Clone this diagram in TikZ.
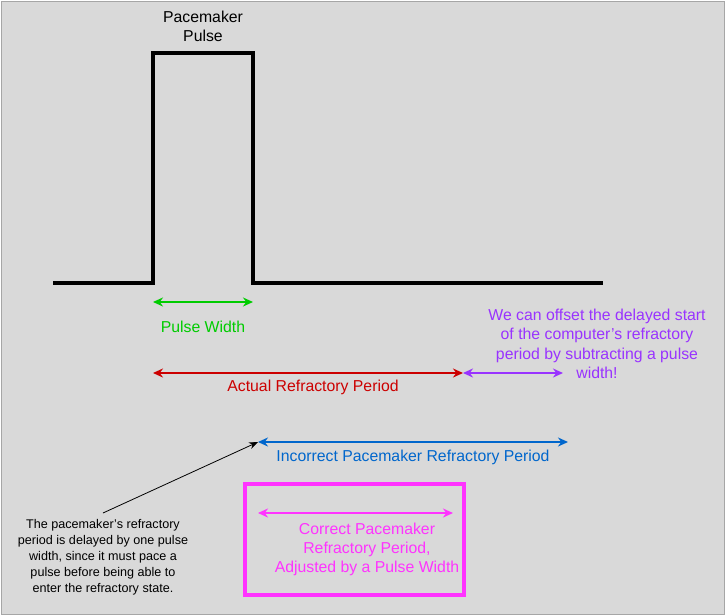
\documentclass[tikz,border=0pt]{standalone}
\usepackage{fontspec}
\setmainfont{Liberation Sans}
\usetikzlibrary{arrows.meta}
\definecolor{bg}{HTML}{D9D9D9}
\definecolor{cgreen}{HTML}{00CC00}
\definecolor{cred}{HTML}{CC0000}
\definecolor{cpurp}{HTML}{9933FF}
\definecolor{cblue}{HTML}{0066CC}
\definecolor{cmag}{HTML}{FF33FF}
\begin{document}
\begin{tikzpicture}[x=1pt,y=-1pt,
  dbl/.style={line width=2.2pt,{Stealth[length=10pt,width=9pt]}-{Stealth[length=10pt,width=9pt]}},
  lbl/.style={font=\fontsize{15.8}{19}\selectfont,align=center,inner sep=0pt},
  small/.style={font=\fontsize{12.6}{16}\selectfont,align=center,inner sep=0pt}]
\useasboundingbox (0,0) rectangle (726,616);
\draw[fill=bg,draw=gray!70] (1.5,1.5) rectangle (724.5,614.5);
\coordinate (p0) at (53,283);
\coordinate (p1) at (153,283);
\coordinate (p2) at (153,53);
\coordinate (p3) at (253,53);
\coordinate (p4) at (253,283);
\coordinate (p5) at (603,283);
\draw[line width=3.2pt,line join=miter] (p0)--(p1)--(p2)--(p3)--(p4)--(p5);
\node[lbl] (title) at (203,26) {Pacemaker\\Pulse};
% green
\coordinate (g1) at (153,302); \coordinate (g2) at (253,302);
\draw[dbl,cgreen] (g1)--(g2);
\node[lbl,text=cgreen] (gl) at (203,327) {Pulse Width};
% red
\coordinate (r1) at (153,373); \coordinate (r2) at (463,373);
\draw[dbl,cred] (r1)--(r2);
\node[lbl,text=cred] (rl) at (313,387) {Actual Refractory Period};
% purple
\coordinate (q1) at (463,373); \coordinate (q2) at (563,373);
\draw[dbl,cpurp] (q1)--(q2);
\node[lbl,text=cpurp,font=\fontsize{15.8}{19.5}\selectfont] (ql) at (597,344) {We can offset the delayed start\\of the computer's refractory\\period by subtracting a pulse\\width!};
% blue
\coordinate (b1) at (258,442); \coordinate (b2) at (568,442);
\draw[dbl,cblue] (b1)--(b2);
\node[lbl,text=cblue] (bl) at (413,457) {Incorrect Pacemaker Refractory Period};
% magenta box
\node[draw=cmag,line width=4pt,minimum width=219pt,minimum height=111pt,inner sep=0pt] (box) at (354.5,539.5) {};
\coordinate (m1) at (258,513); \coordinate (m2) at (453,513);
\draw[dbl,cmag] (m1)--(m2);
\node[lbl,text=cmag,font=\fontsize{15.8}{19}\selectfont] (ml) at (367,549) {Correct Pacemaker\\Refractory Period,\\Adjusted by a Pulse Width};
% annotation
\coordinate (a0) at (103,513);
\draw[-{Stealth[length=9pt,width=7pt]},line width=0.8pt] (a0)--(b1);
\node[small] (al) at (103,557) {The pacemaker's refractory\\period is delayed by one pulse\\width, since it must pace a\\pulse before being able to\\enter the refractory state.};
\end{tikzpicture}
\end{document}
